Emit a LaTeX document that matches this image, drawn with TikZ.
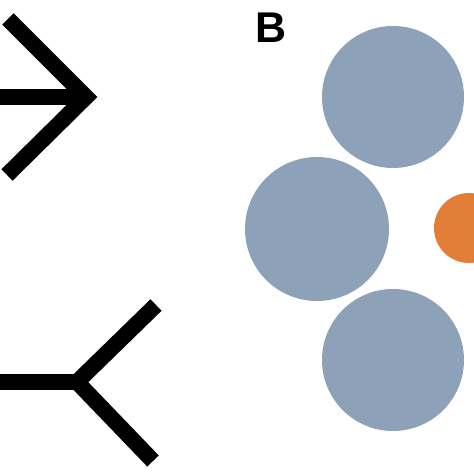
\documentclass[tikz,border=0pt]{standalone}
\usepackage{fontspec}
\setmainfont{Liberation Sans}
\definecolor{bluegray}{RGB}{141,161,184}
\definecolor{orangec}{RGB}{227,126,56}
\begin{document}
\begin{tikzpicture}[x=1pt,y=1pt,
  stroke/.style={line width=16pt, black, line join=miter, line cap=butt},
  bigdot/.style={fill=bluegray, draw=none},
  smalldot/.style={fill=orangec, draw=none}]
\useasboundingbox (0,0) rectangle (474,474);
\clip (0,0) rectangle (474,474);
% top arrow
\coordinate (a0) at (-10,377);
\coordinate (av) at (86,377);
\coordinate (a1) at (8,455);
\coordinate (a2) at (7,299);
\draw[stroke] (a0) -- (av);
\draw[stroke] (a1) -- (av) -- (a2);
% bottom fork
\coordinate (b0) at (-10,92);
\coordinate (bv) at (77,92);
\coordinate (b1) at (156,169);
\coordinate (b2) at (153,13);
\draw[stroke] (b0) -- (bv);
\draw[stroke] (b1) -- (bv) -- (b2);
% label
\node[anchor=base west, inner sep=0pt, font=\bfseries\fontsize{43}{43}\selectfont] (lblB) at (255,431) {B};
% circles
\fill[bigdot] (393,377) circle (71);
\fill[bigdot] (317,245) circle (72);
\fill[bigdot] (393,114) circle (71);
\fill[smalldot] (469,246) circle (35);
\end{tikzpicture}
\end{document}
